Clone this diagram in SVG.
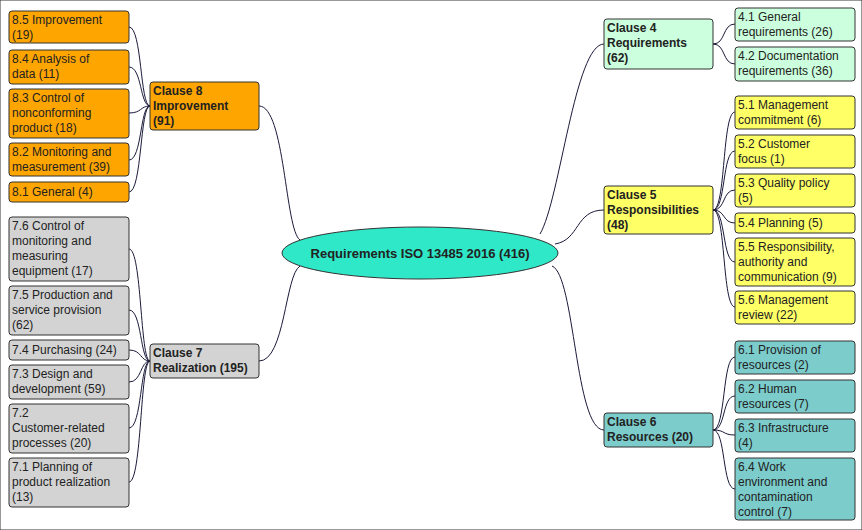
<svg xmlns="http://www.w3.org/2000/svg" width="862" height="530" viewBox="0 0 862 530">
<style>
rect{stroke:#333;stroke-width:1}
.o{fill:#FFA500}.g{fill:#D3D3D3}.gr{fill:#CCFFDD}.y{fill:#FFFF66}.t{fill:#7CCCCC}
text{font-family:"Liberation Sans",Arial,sans-serif;font-size:12px;fill:#222}
.b{font-weight:bold}
#connectors path{fill:none;stroke:#1a1a3a;stroke-width:1}
</style>
<rect width="862" height="530" fill="#fff" stroke="none"/>
<g id="connectors">
<path d="M259,106 C285,106 285,230 300,240"/>
<path d="M259,361 C285,361 285,275 300,266"/>
<path d="M604,44 C575,44 560,200 540,234"/>
<path d="M604,210 C575,210 580,240 555,244"/>
<path d="M604,430 C575,430 575,275 552,266"/>
<path d="M129,27 C142,27 140,106 150,106"/>
<path d="M129,67 C142,67 140,106 150,106"/>
<path d="M129,113 C142,113 140,106 150,106"/>
<path d="M129,160 C142,160 140,106 150,106"/>
<path d="M129,192 C142,192 140,106 150,106"/>
<path d="M129,249 C142,249 140,361 150,361"/>
<path d="M129,310 C142,310 140,361 150,361"/>
<path d="M129,350 C142,350 140,361 150,361"/>
<path d="M129,382 C142,382 140,361 150,361"/>
<path d="M129,428 C142,428 140,361 150,361"/>
<path d="M129,482 C142,482 140,361 150,361"/>
<path d="M713,44 C726,44 722,24 735,24"/>
<path d="M713,44 C726,44 722,64 735,64"/>
<path d="M713,210 C726,210 722,112 735,112"/>
<path d="M713,210 C726,210 722,151 735,151"/>
<path d="M713,210 C726,210 722,190 735,190"/>
<path d="M713,210 C726,210 722,223 735,223"/>
<path d="M713,210 C726,210 722,262 735,262"/>
<path d="M713,210 C726,210 722,307 735,307"/>
<path d="M713,430 C726,430 722,357 735,357"/>
<path d="M713,430 C726,430 722,396 735,396"/>
<path d="M713,430 C726,430 722,435 735,435"/>
<path d="M713,430 C726,430 722,489 735,489"/>
</g>
<g id="root"><ellipse cx="420" cy="253" rx="138" ry="26" fill="#2EE8C8" stroke="#333"/><text x="420" y="258" text-anchor="middle" class="b" style="font-size:13px">Requirements ISO 13485 2016 (416)</text></g>
<g id="c8"><rect class="o" x="150" y="82" width="109" height="48" rx="3"/><text class="b" x="153" y="95">Clause 8</text><text class="b" x="153" y="110">Improvement</text><text class="b" x="153" y="125">(91)</text></g>
<g id="n85"><rect class="o" x="9" y="11" width="120" height="32" rx="3"/><text x="12" y="24">8.5 Improvement</text><text x="12" y="39">(19)</text></g>
<g id="n84"><rect class="o" x="9" y="50" width="120" height="34" rx="3"/><text x="12" y="63">8.4 Analysis of</text><text x="12" y="78">data (11)</text></g>
<g id="n83"><rect class="o" x="9" y="89" width="120" height="49" rx="3"/><text x="12" y="102">8.3 Control of</text><text x="12" y="117">nonconforming</text><text x="12" y="132">product (18)</text></g>
<g id="n82"><rect class="o" x="9" y="143" width="120" height="33" rx="3"/><text x="12" y="156">8.2 Monitoring and</text><text x="12" y="171">measurement (39)</text></g>
<g id="n81"><rect class="o" x="9" y="182" width="120" height="20" rx="3"/><text x="12" y="196">8.1 General (4)</text></g>
<g id="c7"><rect class="g" x="150" y="344" width="109" height="34" rx="3"/><text class="b" x="153" y="357">Clause 7</text><text class="b" x="153" y="372">Realization (195)</text></g>
<g id="n76"><rect class="g" x="9" y="217" width="120" height="64" rx="3"/><text x="12" y="230">7.6 Control of</text><text x="12" y="245">monitoring and</text><text x="12" y="260">measuring</text><text x="12" y="275">equipment (17)</text></g>
<g id="n75"><rect class="g" x="9" y="286" width="120" height="49" rx="3"/><text x="12" y="299">7.5 Production and</text><text x="12" y="314">service provision</text><text x="12" y="329">(62)</text></g>
<g id="n74"><rect class="g" x="9" y="340" width="120" height="20" rx="3"/><text x="12" y="354">7.4 Purchasing (24)</text></g>
<g id="n73"><rect class="g" x="9" y="365" width="120" height="34" rx="3"/><text x="12" y="378">7.3 Design and</text><text x="12" y="393">development (59)</text></g>
<g id="n72"><rect class="g" x="9" y="404" width="120" height="49" rx="3"/><text x="12" y="417">7.2</text><text x="12" y="432">Customer-related</text><text x="12" y="447">processes (20)</text></g>
<g id="n71"><rect class="g" x="9" y="458" width="120" height="49" rx="3"/><text x="12" y="471">7.1 Planning of</text><text x="12" y="486">product realization</text><text x="12" y="501">(13)</text></g>
<g id="c4"><rect class="gr" x="604" y="19" width="109" height="50" rx="3"/><text class="b" x="607" y="32">Clause 4</text><text class="b" x="607" y="47">Requirements</text><text class="b" x="607" y="62">(62)</text></g>
<g id="n41"><rect class="gr" x="735" y="8" width="120" height="33" rx="3"/><text x="738" y="21">4.1 General</text><text x="738" y="36">requirements (26)</text></g>
<g id="n42"><rect class="gr" x="735" y="47" width="120" height="34" rx="3"/><text x="738" y="60">4.2 Documentation</text><text x="738" y="75">requirements (36)</text></g>
<g id="c5"><rect class="y" x="604" y="186" width="109" height="48" rx="3"/><text class="b" x="607" y="199">Clause 5</text><text class="b" x="607" y="214">Responsibilities</text><text class="b" x="607" y="229">(48)</text></g>
<g id="n51"><rect class="y" x="735" y="96" width="120" height="33" rx="3"/><text x="738" y="109">5.1 Management</text><text x="738" y="124">commitment (6)</text></g>
<g id="n52"><rect class="y" x="735" y="135" width="120" height="33" rx="3"/><text x="738" y="148">5.2 Customer</text><text x="738" y="163">focus (1)</text></g>
<g id="n53"><rect class="y" x="735" y="174" width="120" height="33" rx="3"/><text x="738" y="187">5.3 Quality policy</text><text x="738" y="202">(5)</text></g>
<g id="n54"><rect class="y" x="735" y="213" width="120" height="20" rx="3"/><text x="738" y="227">5.4 Planning (5)</text></g>
<g id="n55"><rect class="y" x="735" y="238" width="120" height="48" rx="3"/><text x="738" y="251">5.5 Responsibility,</text><text x="738" y="266">authority and</text><text x="738" y="281">communication (9)</text></g>
<g id="n56"><rect class="y" x="735" y="291" width="120" height="33" rx="3"/><text x="738" y="304">5.6 Management</text><text x="738" y="319">review (22)</text></g>
<g id="c6"><rect class="t" x="604" y="413" width="109" height="34" rx="3"/><text class="b" x="607" y="426">Clause 6</text><text class="b" x="607" y="441">Resources (20)</text></g>
<g id="n61"><rect class="t" x="735" y="341" width="120" height="33" rx="3"/><text x="738" y="354">6.1 Provision of</text><text x="738" y="369">resources (2)</text></g>
<g id="n62"><rect class="t" x="735" y="380" width="120" height="33" rx="3"/><text x="738" y="393">6.2 Human</text><text x="738" y="408">resources (7)</text></g>
<g id="n63"><rect class="t" x="735" y="419" width="120" height="33" rx="3"/><text x="738" y="432">6.3 Infrastructure</text><text x="738" y="447">(4)</text></g>
<g id="n64"><rect class="t" x="735" y="458" width="120" height="62" rx="3"/><text x="738" y="471">6.4 Work</text><text x="738" y="486">environment and</text><text x="738" y="501">contamination</text><text x="738" y="516">control (7)</text></g>
</svg>
